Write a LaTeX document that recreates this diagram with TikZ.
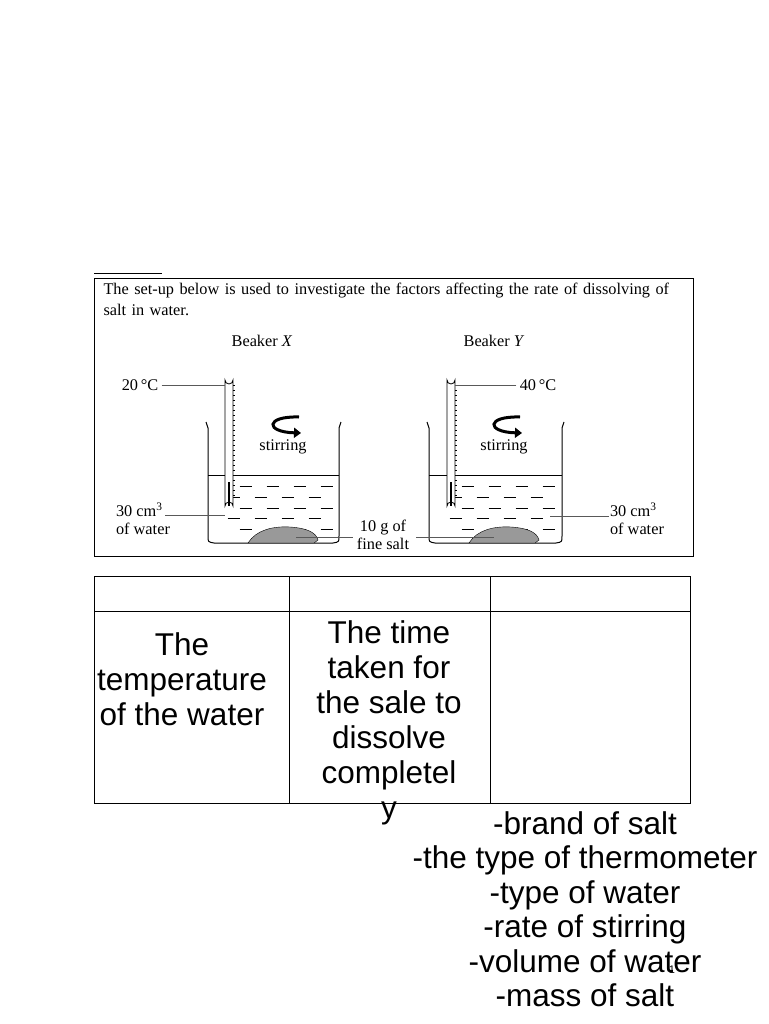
\documentclass[tikz,border=0pt]{standalone}
\usepackage{fontspec}
\setmainfont{Liberation Serif}
\newfontfamily\tablefont{Liberation Sans}
\usetikzlibrary{arrows.meta,positioning,calc}
\tikzset{
  fig/.style={font=\fontsize{16.3}{18}\selectfont},
  big/.style={font=\tablefont\fontsize{31.5}{35}\selectfont, align=center},
  wall/.style={line width=1pt},
  leader/.style={line width=0.6pt, gray!70!black},
  waterdash/.style={line width=0.8pt}
}
\begin{document}
\begin{tikzpicture}[x=1pt,y=-1pt]
				\useasboundingbox (0,0) rectangle (768,1024);
				% Draw question frame
				\draw[line width=1pt] (94,273) -- (162,273);
				\node[draw, line width=1pt, minimum width=599pt, minimum height=278pt, anchor=north west, inner sep=0] (frame) at (94,278) {};
				\node[fig, anchor=north west, align=left, text width=590pt] (question) at (100,279) {The set-up below is used to investigate the factors affecting the rate of dissolving of\\[3pt]salt in water.};
				\node[fig] (labelX) at (262,341) {Beaker \textit{X}};
				\node[fig] (labelY) at (494,341) {Beaker \textit{Y}};
				
				% Draw beakers
				\foreach \b/\l/\r in {X/208/339, Y/429/562} {
					\draw[wall] (\l-2,422) -- (\l,428) -- (\l,536) .. controls (\l,542) .. (\l+6,543) -- (\r-6,543) .. controls (\r,542) .. (\r,536) -- (\r,428) -- (\r+2,422);
					\draw[line width=0.8pt] (\l,475) -- (\r,475);
					\coordinate (mid\b) at ({(\l+\r)/2},0);
				}
				
				% Draw water dashes
				\foreach \x in {0,1,2,3} {
					\foreach \y/\s in {486/6, 497/-6, 508/6, 518/-6, 529/6} {
						\draw[waterdash] ($(midX)+(\x*27-40+\s,\y)$) -- +(12,0);
						\draw[waterdash] ($(midY)+(\x*27-40+\s,\y)$) -- +(12,0);
					}
				}
				
				% Draw salt heaps
				\foreach \x in {248,469} {
					\draw[fill=gray!80] (\x,543) .. controls (\x+8,530) and (\x+25,526) .. (\x+42,527) .. controls (\x+58,528) and (\x+68,532) .. (\x+70,540) -- (\x+66,543) -- cycle;
				}
				
				% Draw thermometers
				\foreach \t/\x in {X/225, Y/447} {
					\draw[fill=white, line width=0.8pt] (\x,380) arc (180:0:4) -- (\x+8,506) arc (0:-180:4) -- cycle;
					\draw[line width=2pt] (\x+4,482) -- (\x+4,506);
					\foreach \k in {0,...,22} \draw[line width=0.4pt] (\x+8,385+\k*5) -- +(2,0);
					\coordinate (therm\t) at (\x,385);
				}
				
				% Draw stirring arrows
				\foreach \x in {283,504} {
					\draw[line width=3pt, -{Triangle[length=7pt,width=10pt]}] (\x+16,417) .. controls (\x-18,416) and (\x-18,432) .. (\x+18,433);
					\node[fig] at (\x,447) {stirring};
				}
				
				% Draw labels and leaders
				\node[fig] (tempX) at (140,385) {20\,°C};
				\node[fig] (tempY) at (538,385) {40\,°C};
				\draw[leader] (tempX.east) -- (225,385);
				\draw[leader] (tempY.west) -- (455,385);
				\node[fig, align=left] (volX) at (143,519) {30 cm\textsuperscript{3}\\of water};
				\node[fig, align=left] (volY) at (637,519) {30 cm\textsuperscript{3}\\of water};
				\draw[leader] (165,515) -- (225,515);
				\draw[leader] (550,516) -- (609,516);
				\node[fig, align=center] (salt) at (383,535) {10 g of\\fine salt};
				\draw[leader] (296,537) -- (salt.west |- 0,537);
				\draw[leader] (416,537) -- (494,537);
				
				% Draw table
				\draw[line width=0.8pt] (94,576) rectangle (690,803);
				\draw[line width=0.8pt] (94,611) -- (690,611);
				\draw[line width=0.8pt] (289,576) -- (289,803);
				\draw[line width=0.8pt] (490,576) -- (490,803);
				\node[big] (indep) at (182,679) {The\\temperature\\of the water};
				\node[big] (dep) at (389,723) {The time\\taken for\\the sale to\\dissolve\\completel\\y};
				
				% Draw list of constants
				\node[big, font=\tablefont\fontsize{31.5}{34.5}\selectfont] (consts) at (585,909) {-brand of salt\\-the type of thermometer\\-type of water\\-rate of stirring\\-volume of water\\-mass of salt};
				\node[font=\tablefont\fontsize{11}{12}\selectfont] (page) at (672,970) {1};
			\end{tikzpicture}
\end{document}
